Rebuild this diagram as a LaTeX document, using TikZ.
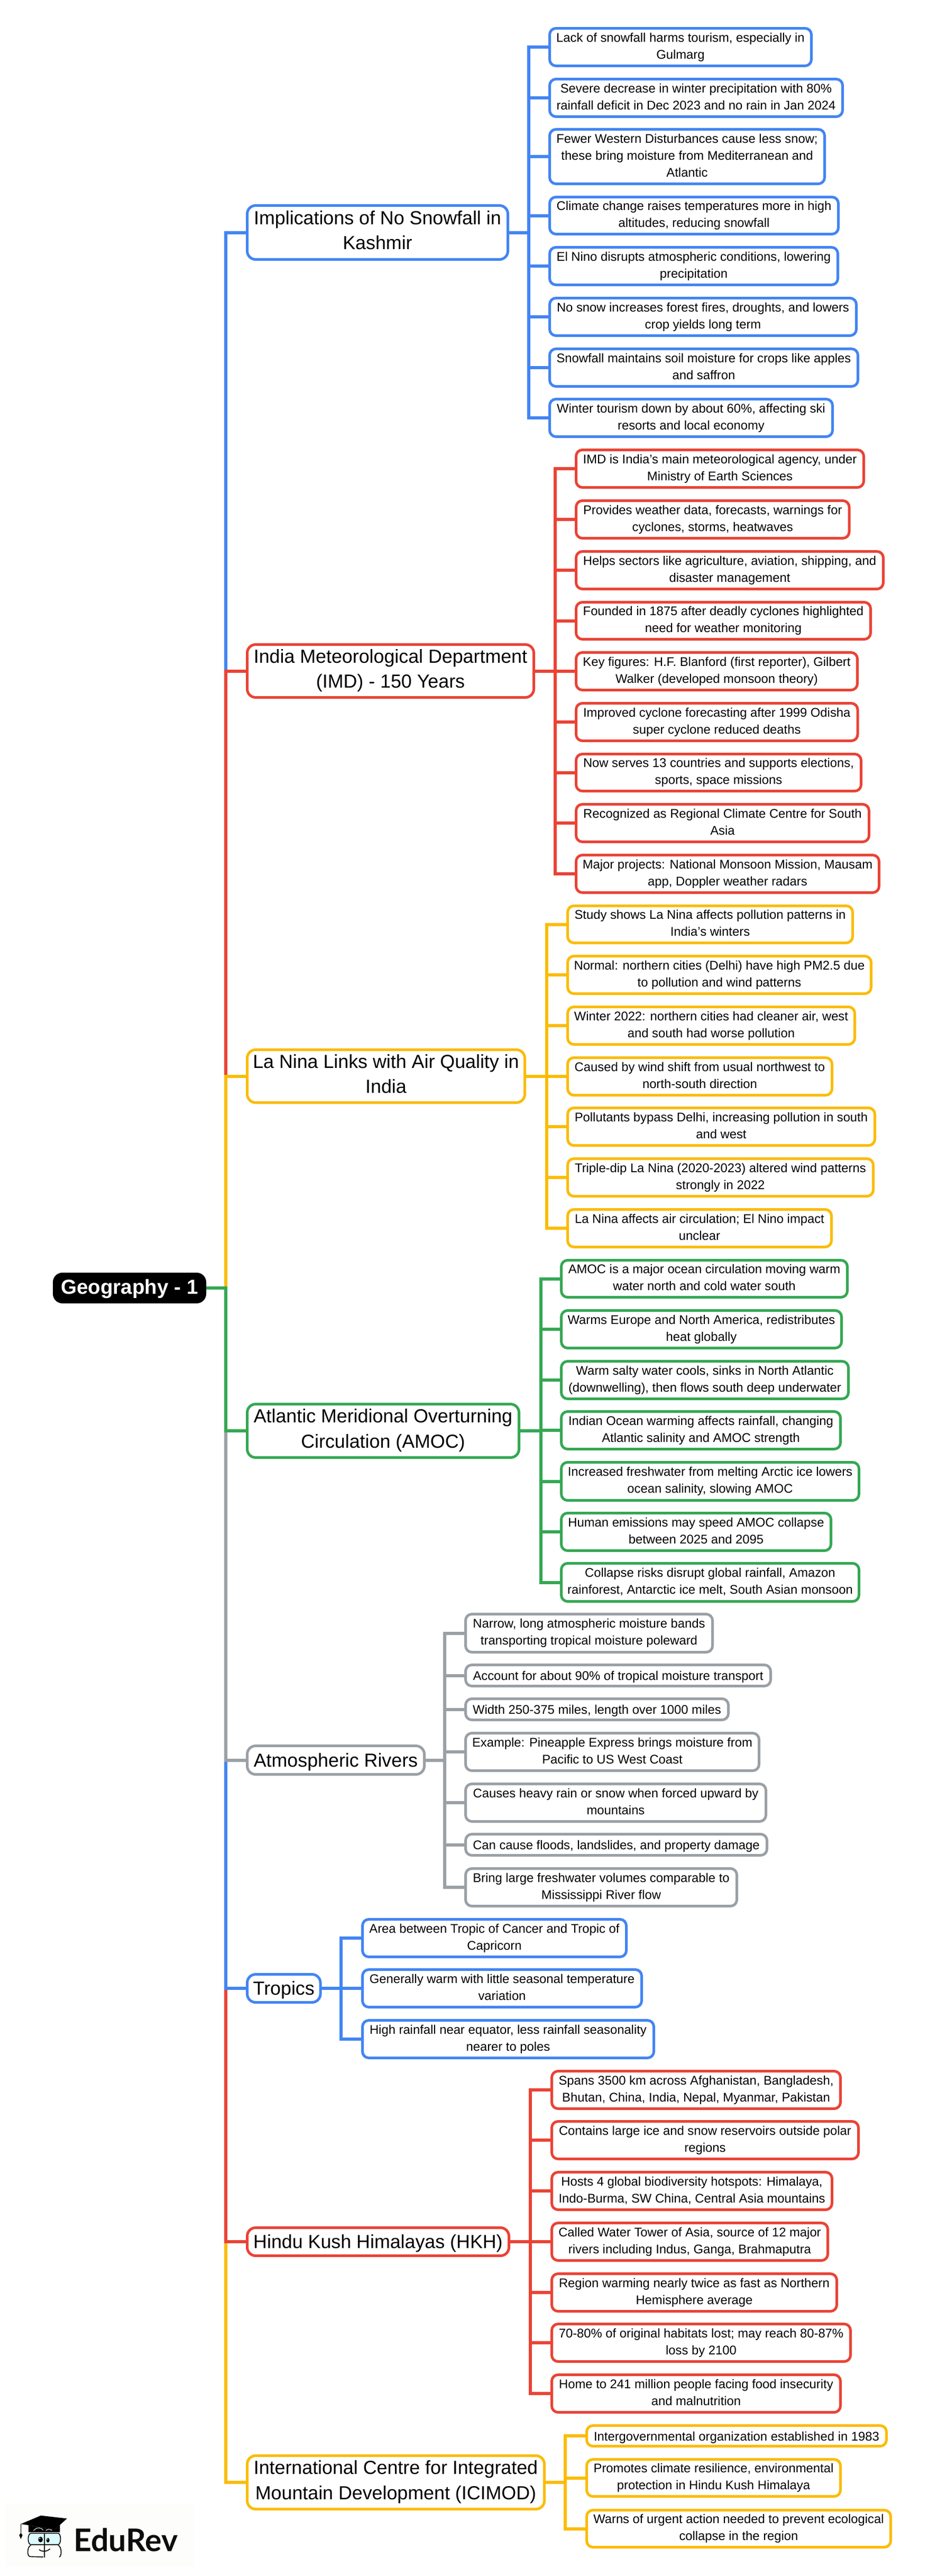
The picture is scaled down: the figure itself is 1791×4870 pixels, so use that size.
\documentclass[tikz,border=0pt]{standalone}
\usepackage{fontspec}
\setmainfont{Liberation Sans}
\newfontfamily\logofont{Lato}
\definecolor{gblue}{HTML}{4285F4}
\definecolor{gred}{HTML}{EA4335}
\definecolor{gyellow}{HTML}{FBBC04}
\definecolor{ggreen}{HTML}{34A853}
\definecolor{ggray}{HTML}{9AA0A6}
\definecolor{logobg}{HTML}{FDFDFB}
\newcommand{\leafstrut}{\rule[-5.2pt]{0pt}{29.2pt}}
\newcommand{\topicstrut}{\rule[-9pt]{0pt}{43pt}}
\newcommand{\rootstrut}{\rule[-4pt]{0pt}{36pt}}
\tikzset{
  leafbox/.style={draw=#1,fill=white,line width=5pt,rounded corners=12pt,inner sep=0pt,outer sep=0pt,align=center,text=black,font=\fontsize{23.8}{32}\selectfont,execute at begin node=\leafstrut,execute at end node=\leafstrut},
  topicbox/.style={draw=#1,fill=white,line width=5pt,rounded corners=16pt,inner sep=0pt,outer sep=0pt,align=center,text=black,font=\fontsize{35.8}{47.5}\selectfont,execute at begin node=\topicstrut,execute at end node=\topicstrut},
  rootbox/.style={fill=black,rounded corners=18pt,inner sep=0pt,outer sep=0pt,align=center,text=white,font=\fontsize{38.5}{47}\bfseries\selectfont,execute at begin node=\rootstrut,execute at end node=\rootstrut},
  conn/.style={draw=#1,line width=6pt},
}
% box given by its outer edges: style, colour, name, x1, y1, x2, y2, text
\newcommand{\bx}[8]{%
  \pgfmathsetmacro{\mycx}{(#4+#6)/2}%
  \pgfmathsetmacro{\mycy}{(#5+#7)/2}%
  \pgfmathsetmacro{\myw}{#6-#4-5}%
  \pgfmathsetmacro{\myh}{#7-#5-5}%
  \node[#1=#2,minimum width=\myw pt,minimum height=\myh pt] (#3) at (\mycx,\mycy) {#8};%
}
\newcommand{\branch}[4]{%
  \coordinate (sp#1) at (#3,0);%
  \foreach \lf in {#4} {\draw[conn=#2] (#1.east) -- (sp#1 |- #1.east) |- (\lf.west);}%
}
\begin{document}
\begin{tikzpicture}[x=1pt,y=-1pt]
\useasboundingbox (0,0) rectangle (1791,4870);
\fill[white] (0,0) rectangle (1791,4870);

% root
\node[rootbox,minimum width=290pt,minimum height=58pt] (root) at (245,2435) {Geography - 1};
\coordinate (trunk) at (427,0);

% topics
\bx{topicbox}{gblue}{ta}{465}{386}{963}{493}{Implications of No Snowfall in\\Kashmir}
\bx{topicbox}{gred}{tb}{465}{1216}{1012}{1321}{India Meteorological Department\\(IMD) - 150 Years}
\bx{topicbox}{gyellow}{tc}{465}{1982}{995}{2087}{La Nina Links with Air Quality in\\India}
\bx{topicbox}{ggreen}{td}{465}{2652}{984}{2758}{Atlantic Meridional Overturning\\Circulation (AMOC)}
\bx{topicbox}{ggray}{te}{465}{3298}{805}{3357}{Atmospheric Rivers}
\bx{topicbox}{gblue}{tf}{465}{3730}{608.5}{3788}{Tropics}
\bx{topicbox}{gred}{tg}{465}{4209}{965}{4267}{Hindu Kush Himalayas (HKH)}
\bx{topicbox}{gyellow}{th}{465}{4640}{1032}{4746}{International Centre for Integrated\\Mountain Development (ICIMOD)}

% trunk
\foreach \t/\c in {ta/gblue,tb/gred,tc/gyellow,th/gyellow,tg/gred,tf/gblue,te/ggray,td/ggreen}
  {\draw[conn=\c] (root.east) -- (trunk |- root.east) |- (\t.west);}

% leaves A
\bx{leafbox}{gblue}{a1}{1037}{51}{1537}{127}{Lack of snowfall harms tourism, especially in\\Gulmarg}
\bx{leafbox}{gblue}{a2}{1037}{147}{1596}{223}{Severe decrease in winter precipitation with 80\%\\rainfall deficit in Dec 2023 and no rain in Jan 2024}
\bx{leafbox}{gblue}{a3}{1037}{242}{1562}{350}{Fewer Western Disturbances cause less snow;\\these bring moisture from Mediterranean and\\Atlantic}
\bx{leafbox}{gblue}{a4}{1037}{370}{1588}{445}{Climate change raises temperatures more in high\\altitudes, reducing snowfall}
\bx{leafbox}{gblue}{a5}{1037}{465}{1587}{541}{El Nino disrupts atmospheric conditions, lowering\\precipitation}
\bx{leafbox}{gblue}{a6}{1037}{561}{1622}{637}{No snow increases forest fires, droughts, and lowers\\crop yields long term}
\bx{leafbox}{gblue}{a7}{1037}{657}{1625}{733}{Snowfall maintains soil moisture for crops like apples\\and saffron}
\bx{leafbox}{gblue}{a8}{1037}{752}{1577}{828}{Winter tourism down by about 60\%, affecting ski\\resorts and local economy}
\branch{ta}{gblue}{1000}{a1,a2,a3,a4,a5,a6,a7,a8}

% leaves B
\bx{leafbox}{gred}{b1}{1087}{848}{1636}{924}{IMD is India's main meteorological agency, under\\Ministry of Earth Sciences}
\bx{leafbox}{gred}{b2}{1087}{944}{1608.5}{1020}{Provides weather data, forecasts, warnings for\\cyclones, storms, heatwaves}
\bx{leafbox}{gred}{b3}{1087}{1040}{1673}{1116}{Helps sectors like agriculture, aviation, shipping, and\\disaster management}
\bx{leafbox}{gred}{b4}{1087}{1136}{1649}{1211}{Founded in 1875 after deadly cyclones highlighted\\need for weather monitoring}
\bx{leafbox}{gred}{b5}{1087}{1231}{1624}{1307}{Key figures: H.F. Blanford (first reporter), Gilbert\\Walker (developed monsoon theory)}
\bx{leafbox}{gred}{b6}{1087}{1327}{1624.5}{1403}{Improved cyclone forecasting after 1999 Odisha\\super cyclone reduced deaths}
\bx{leafbox}{gred}{b7}{1087}{1423}{1631}{1498}{Now serves 13 countries and supports elections,\\sports, space missions}
\bx{leafbox}{gred}{b8}{1087}{1518}{1646}{1594}{Recognized as Regional Climate Centre for South\\Asia}
\bx{leafbox}{gred}{b9}{1087}{1614}{1665}{1690}{Major projects: National Monsoon Mission, Mausam\\app, Doppler weather radars}
\branch{tb}{gred}{1050}{b1,b2,b3,b4,b5,b6,b7,b8,b9}

% leaves C
\bx{leafbox}{gyellow}{c1}{1071}{1710}{1615}{1785}{Study shows La Nina affects pollution patterns in\\India's winters}
\bx{leafbox}{gyellow}{c2}{1071}{1805}{1650}{1881}{Normal: northern cities (Delhi) have high PM2.5 due\\to pollution and wind patterns}
\bx{leafbox}{gyellow}{c3}{1071}{1901}{1619}{1977}{Winter 2022: northern cities had cleaner air, west\\and south had worse pollution}
\bx{leafbox}{gyellow}{c4}{1071}{1997}{1576}{2073}{Caused by wind shift from usual northwest to\\north-south direction}
\bx{leafbox}{gyellow}{c5}{1071}{2092}{1657}{2168}{Pollutants bypass Delhi, increasing pollution in south\\and west}
\bx{leafbox}{gyellow}{c6}{1071}{2188}{1654}{2264}{Triple-dip La Nina (2020-2023) altered wind patterns\\strongly in 2022}
\bx{leafbox}{gyellow}{c7}{1071}{2284}{1575}{2360}{La Nina affects air circulation; El Nino impact\\unclear}
\branch{tc}{gyellow}{1034}{c1,c2,c3,c4,c5,c6,c7}

% leaves D
\bx{leafbox}{ggreen}{d1}{1059}{2380}{1605}{2455}{AMOC is a major ocean circulation moving warm\\water north and cold water south}
\bx{leafbox}{ggreen}{d2}{1059}{2475}{1594}{2551}{Warms Europe and North America, redistributes\\heat globally}
\bx{leafbox}{ggreen}{d3}{1059}{2571}{1607}{2647}{Warm salty water cools, sinks in North Atlantic\\(downwelling), then flows south deep underwater}
\bx{leafbox}{ggreen}{d4}{1059}{2666}{1592}{2742}{Indian Ocean warming affects rainfall, changing\\Atlantic salinity and AMOC strength}
\bx{leafbox}{ggreen}{d5}{1059}{2762}{1627}{2839}{Increased freshwater from melting Arctic ice lowers\\ocean salinity, slowing AMOC}
\bx{leafbox}{ggreen}{d6}{1059}{2858}{1574}{2934}{Human emissions may speed AMOC collapse\\between 2025 and 2095}
\bx{leafbox}{ggreen}{d7}{1059}{2953}{1627}{3030}{Collapse risks disrupt global rainfall, Amazon\\rainforest, Antarctic ice melt, South Asian monsoon}
\branch{td}{ggreen}{1023}{d1,d2,d3,d4,d5,d6,d7}

% leaves E
\bx{leafbox}{ggray}{e1}{878}{3049}{1350}{3126}{Narrow, long atmospheric moisture bands\\transporting tropical moisture poleward}
\bx{leafbox}{ggray}{e2}{878}{3145}{1460}{3190}{Account for about 90\% of tropical moisture transport}
\bx{leafbox}{ggray}{e3}{878}{3209}{1380}{3254}{Width 250-375 miles, length over 1000 miles}
\bx{leafbox}{ggray}{e4}{878}{3274}{1438}{3350}{Example: Pineapple Express brings moisture from\\Pacific to US West Coast}
\bx{leafbox}{ggray}{e5}{878}{3370}{1451}{3446}{Causes heavy rain or snow when forced upward by\\mountains}
\bx{leafbox}{ggray}{e6}{878}{3465}{1453}{3510}{Can cause floods, landslides, and property damage}
\bx{leafbox}{ggray}{e7}{878}{3530}{1396}{3606}{Bring large freshwater volumes comparable to\\Mississippi River flow}
\branch{te}{ggray}{841}{e1,e2,e3,e4,e5,e6,e7}

% leaves F
\bx{leafbox}{gblue}{f1}{683}{3626}{1187}{3702}{Area between Tropic of Cancer and Tropic of\\Capricorn}
\bx{leafbox}{gblue}{f2}{683}{3721}{1216}{3797}{Generally warm with little seasonal temperature\\variation}
\bx{leafbox}{gblue}{f3}{683}{3817}{1239}{3893}{High rainfall near equator, less rainfall seasonality\\nearer to poles}
\branch{tf}{gblue}{645}{f1,f2,f3}

% leaves G
\bx{leafbox}{gred}{g1}{1041}{3913}{1592}{3989}{Spans 3500 km across Afghanistan, Bangladesh,\\Bhutan, China, India, Nepal, Myanmar, Pakistan}
\bx{leafbox}{gred}{g2}{1041}{4008}{1626}{4084}{Contains large ice and snow reservoirs outside polar\\regions}
\bx{leafbox}{gred}{g3}{1041}{4104}{1576}{4180}{Hosts 4 global biodiversity hotspots: Himalaya,\\Indo-Burma, SW China, Central Asia mountains}
\bx{leafbox}{gred}{g4}{1041}{4200}{1568}{4276}{Called Water Tower of Asia, source of 12 major\\rivers including Indus, Ganga, Brahmaputra}
\bx{leafbox}{gred}{g5}{1041}{4296}{1585}{4372}{Region warming nearly twice as fast as Northern\\Hemisphere average}
\bx{leafbox}{gred}{g6}{1041}{4391}{1611}{4467}{70-80\% of original habitats lost; may reach 80-87\%\\loss by 2100}
\bx{leafbox}{gred}{g7}{1041}{4487}{1592}{4563}{Home to 241 million people facing food insecurity\\and malnutrition}
\branch{tg}{gred}{1003}{g1,g2,g3,g4,g5,g6,g7}

% leaves H
\bx{leafbox}{gyellow}{h1}{1107}{4583}{1679}{4627}{Intergovernmental organization established in 1983}
\bx{leafbox}{gyellow}{h2}{1107}{4647}{1592}{4722}{Promotes climate resilience, environmental\\protection in Hindu Kush Himalaya}
\bx{leafbox}{gyellow}{h3}{1107}{4743}{1687}{4818}{Warns of urgent action needed to prevent ecological\\collapse in the region}
\branch{th}{gyellow}{1069}{h1,h2,h3}

% logo
\fill[logobg] (10,4733) rectangle (367,4853);
\begin{scope}[shift={(0,4600)},x=0.3333pt,y=-0.3333pt]
  \fill[black] (118,515) -- (232,467) -- (380,484) -- (310,547) -- (162,522) -- cycle;
  \fill[black] (162,522) -- (310,547) -- (340,518) -- (340,562) -- (162,562) -- cycle;
  \draw[white,line width=1pt] (190,553) .. controls (210,532) and (230,532) .. (245,550);
  \draw[white,line width=1pt] (260,552) .. controls (270,543) and (285,543) .. (295,552);
  \draw[black,line width=1pt] (118,515) -- (118,572);
  \fill[black] (118,566) -- (128,578) -- (118,600) -- (109,578) -- cycle;
  \draw[black,line width=1.6pt,fill=blue!10!cyan!14] (175,568) -- (330,568) .. controls (348,570) and (348,630) .. (330,632) -- (175,632) .. controls (155,630) and (155,570) .. (175,568) -- cycle;
  \draw[black,line width=1.6pt] (175,636) .. controls (155,640) and (150,700) .. (172,700) -- (245,702);
  \draw[black,line width=1.6pt] (330,636) .. controls (350,640) and (352,700) .. (336,702);
  \draw[black,line width=1.6pt] (252,568) -- (252,704);
  \fill[black] (230,603) ellipse (13 and 16);
  \fill[black] (272,607) ellipse (9 and 13);
  \fill[white] (226,597) circle (4);
  \fill[white] (269,601) circle (3);
  \draw[black,line width=1.6pt] (222,660) .. controls (240,675) and (265,672) .. (284,656);
\end{scope}
\node[inner sep=0pt,anchor=base west,text=black!95,font=\logofont\fontsize{59}{59}\bfseries\selectfont] (logo) at (139,4823) {EduRev};
\end{tikzpicture}
\end{document}
